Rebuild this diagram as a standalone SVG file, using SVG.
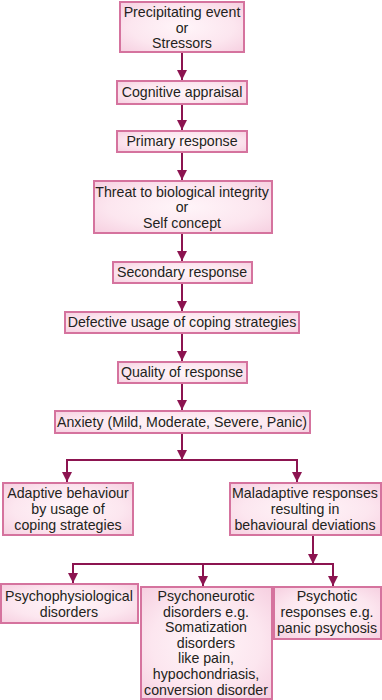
<svg xmlns="http://www.w3.org/2000/svg" width="382" height="700" viewBox="0 0 382 700">
<defs>
<radialGradient id="g" cx="0.5" cy="0.5" r="0.7">
<stop offset="0" stop-color="#fff5f9"/>
<stop offset="0.6" stop-color="#fce6ef"/>
<stop offset="1" stop-color="#f6cfe0"/>
</radialGradient>
<marker id="a" markerWidth="10" markerHeight="10" refX="10" refY="5" orient="auto-start-reverse" markerUnits="userSpaceOnUse" viewBox="0 0 10 10">
<path d="M0,0 L10,5 L0,10 Z" fill="#8c1450"/>
</marker>
</defs>
<style>
.b{fill:url(#g);stroke:#d5739e;stroke-width:2}
.t{font-family:"Liberation Sans",Arial,sans-serif;font-size:14.2px;fill:#231f20;text-anchor:middle}
.c{fill:none;stroke:#8c1450;stroke-width:2}
</style>
<rect width="382" height="700" fill="#ffffff"/>
<g id="connectors">
<path class="c" d="M182,52 V80" marker-end="url(#a)"/>
<path class="c" d="M182,104 V130" marker-end="url(#a)"/>
<path class="c" d="M182,152 V180" marker-end="url(#a)"/>
<path class="c" d="M182,233 V261" marker-end="url(#a)"/>
<path class="c" d="M182,283 V311" marker-end="url(#a)"/>
<path class="c" d="M182,333 V361" marker-end="url(#a)"/>
<path class="c" d="M182,383 V410" marker-end="url(#a)"/>
<path class="c" d="M182,433 V460" marker-end="url(#a)"/>
<path class="c" d="M67,482 V460 H297 V482" marker-end="url(#a)" marker-start="url(#a)"/>
<path class="c" d="M313,535 V564" marker-end="url(#a)"/>
<path class="c" d="M73,583 V564 H333 V586" marker-start="url(#a)" marker-end="url(#a)"/>
<path class="c" d="M203,564 V586" marker-end="url(#a)"/>
</g>
<g id="n1"><rect class="b" x="120" y="2" width="124" height="50"/>
<text class="t" x="182" y="17">Precipitating event</text><text class="t" x="182" y="33">or</text><text class="t" x="182" y="48">Stressors</text></g>
<g id="n2"><rect class="b" x="117" y="81" width="130" height="23"/>
<text class="t" x="182" y="97">Cognitive appraisal</text></g>
<g id="n3"><rect class="b" x="117" y="131" width="130" height="21"/>
<text class="t" x="182" y="146">Primary response</text></g>
<g id="n4"><rect class="b" x="94" y="181" width="178" height="52"/>
<text class="t" x="182" y="197">Threat to biological integrity</text><text class="t" x="182" y="212">or</text><text class="t" x="182" y="228">Self concept</text></g>
<g id="n5"><rect class="b" x="113" y="262" width="139" height="21"/>
<text class="t" x="182" y="277">Secondary response</text></g>
<g id="n6"><rect class="b" x="65" y="312" width="234" height="21"/>
<text class="t" x="182" y="327">Defective usage of coping strategies</text></g>
<g id="n7"><rect class="b" x="118" y="362" width="129" height="21"/>
<text class="t" x="182" y="377">Quality of response</text></g>
<g id="n8"><rect class="b" x="55" y="411" width="255" height="22"/>
<text class="t" x="182" y="427">Anxiety (Mild, Moderate, Severe, Panic)</text></g>
<g id="n9"><rect class="b" x="3" y="483" width="130" height="52"/>
<text class="t" x="68" y="498">Adaptive behaviour</text><text class="t" x="68" y="514">by usage of</text><text class="t" x="68" y="530">coping strategies</text></g>
<g id="n10"><rect class="b" x="230" y="483" width="151" height="52"/>
<text class="t" x="305" y="498">Maladaptive responses</text><text class="t" x="305" y="514">resulting in</text><text class="t" x="305" y="530">behavioural deviations</text></g>
<g id="n11"><rect class="b" x="1" y="584" width="137" height="39"/>
<text class="t" x="69" y="601">Psychophysiological</text><text class="t" x="69" y="617">disorders</text></g>
<g id="n12"><rect class="b" x="141" y="587" width="131" height="112"/>
<text class="t" x="206" y="601">Psychoneurotic</text><text class="t" x="206" y="617">disorders e.g.</text><text class="t" x="206" y="632">Somatization</text><text class="t" x="206" y="648">disorders</text><text class="t" x="206" y="663">like pain,</text><text class="t" x="206" y="679">hypochondriasis,</text><text class="t" x="206" y="695">conversion disorder</text></g>
<g id="n13"><rect class="b" x="274" y="587" width="107" height="52"/>
<text class="t" x="327" y="601">Psychotic</text><text class="t" x="327" y="617">responses e.g.</text><text class="t" x="327" y="633">panic psychosis</text></g>
</svg>
